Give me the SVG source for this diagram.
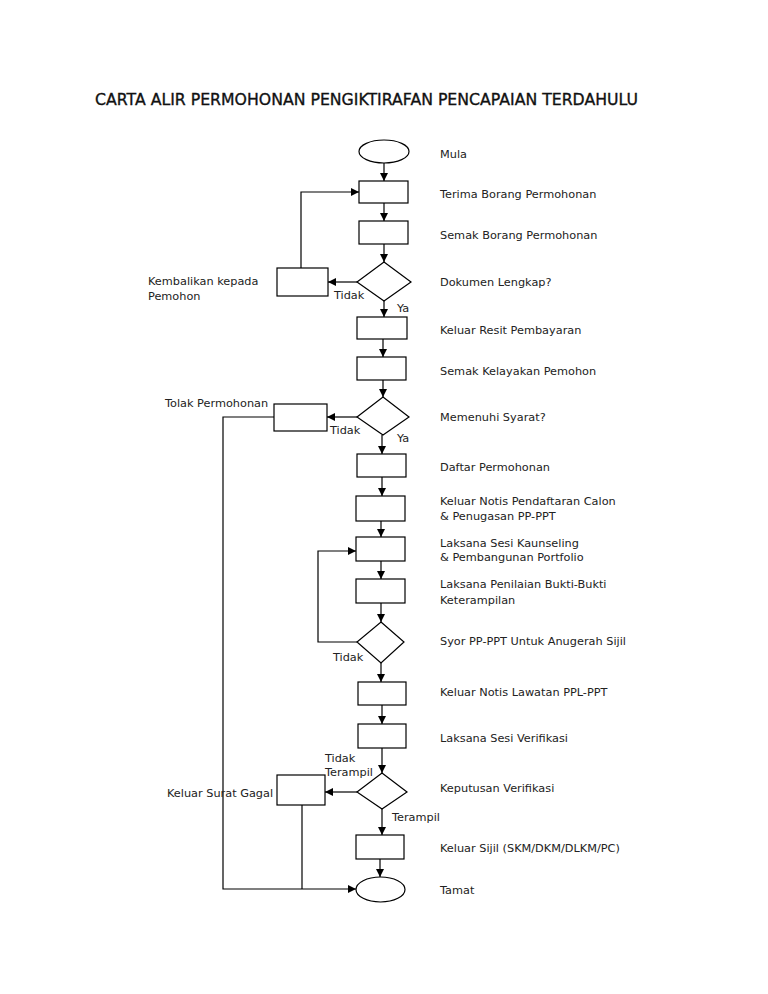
<svg xmlns="http://www.w3.org/2000/svg" width="768" height="994" viewBox="0 0 768 994">
<style>
.n{fill:#fff;stroke:#000;stroke-width:1.2}
.c{fill:none;stroke:#000;stroke-width:1.2}
text{font-family:"DejaVu Sans","Liberation Sans",sans-serif;font-size:11.3px;fill:#222}
.t{font-size:16px;fill:#111;stroke:#111;stroke-width:0.35}
</style>
<defs>
<marker id="ah" markerUnits="userSpaceOnUse" markerWidth="9" markerHeight="9" refX="8" refY="4.5" orient="auto">
<path d="M0,0.5 L8,4.5 L0,8.5 Z" fill="#000"/>
</marker>
</defs>
<rect width="768" height="994" fill="#fff"/>
<text class="t" x="95" y="105" textLength="543" lengthAdjust="spacingAndGlyphs">CARTA ALIR PERMOHONAN PENGIKTIRAFAN PENCAPAIAN TERDAHULU</text>

<g id="connectors">
<path class="c" marker-end="url(#ah)" d="M384,163 V181"/>
<path class="c" marker-end="url(#ah)" d="M384,203 V221"/>
<path class="c" marker-end="url(#ah)" d="M384,244 V262"/>
<path class="c" marker-end="url(#ah)" d="M357,282 H328"/>
<path class="c" marker-end="url(#ah)" d="M301,268 V192 H359"/>
<path class="c" marker-end="url(#ah)" d="M384,301 V317"/>
<path class="c" marker-end="url(#ah)" d="M383,339 V357"/>
<path class="c" marker-end="url(#ah)" d="M383,380 V397"/>
<path class="c" marker-end="url(#ah)" d="M357,417 H327"/>
<path class="c" marker-end="url(#ah)" d="M274,417 H223 V889 H356"/>
<path class="c" marker-end="url(#ah)" d="M382,435 V454"/>
<path class="c" marker-end="url(#ah)" d="M382,477 V496"/>
<path class="c" marker-end="url(#ah)" d="M381,521 V537"/>
<path class="c" marker-end="url(#ah)" d="M381,561 V579"/>
<path class="c" marker-end="url(#ah)" d="M381,603 V622"/>
<path class="c" marker-end="url(#ah)" d="M357,642 H318 V551 H356"/>
<path class="c" marker-end="url(#ah)" d="M381,663 V682"/>
<path class="c" marker-end="url(#ah)" d="M382,705 V724"/>
<path class="c" marker-end="url(#ah)" d="M382,748 V773"/>
<path class="c" marker-end="url(#ah)" d="M357,792 H325"/>
<path class="c" d="M302,805 V889"/>
<path class="c" marker-end="url(#ah)" d="M382,809 V835"/>
<path class="c" marker-end="url(#ah)" d="M380,859 V877"/>
</g>

<g id="mula"><ellipse class="n" cx="384" cy="151.5" rx="25" ry="11.5"/><text x="440" y="158">Mula</text></g>
<g id="terima"><rect class="n" x="359" y="181" width="49" height="22"/><text x="440" y="198">Terima Borang Permohonan</text></g>
<g id="semak"><rect class="n" x="359" y="221" width="49" height="23"/><text x="440" y="239">Semak Borang Permohonan</text></g>
<g id="dokumen"><polygon class="n" points="384,262 411,282 384,301 357,282"/><text x="440" y="286">Dokumen Lengkap?</text>
<text x="334" y="299">Tidak</text><text x="397" y="312">Ya</text></g>
<g id="kembalikan"><rect class="n" x="277" y="268" width="51" height="28"/><text x="148" y="285">Kembalikan kepada</text><text x="148" y="300">Pemohon</text></g>
<g id="resit"><rect class="n" x="357" y="317" width="50" height="22"/><text x="440" y="334">Keluar Resit Pembayaran</text></g>
<g id="kelayakan"><rect class="n" x="357" y="357" width="49" height="23"/><text x="440" y="375">Semak Kelayakan Pemohon</text></g>
<g id="syarat"><polygon class="n" points="383,397 409,417 383,435 357,417"/><text x="440" y="421">Memenuhi Syarat?</text>
<text x="330" y="434">Tidak</text><text x="397" y="442">Ya</text></g>
<g id="tolak"><rect class="n" x="274" y="404" width="53" height="27"/><text x="165" y="407">Tolak Permohonan</text></g>
<g id="daftar"><rect class="n" x="357" y="454" width="49" height="23"/><text x="440" y="471">Daftar Permohonan</text></g>
<g id="notis"><rect class="n" x="356" y="496" width="49" height="25"/><text x="440" y="505">Keluar Notis Pendaftaran Calon</text><text x="440" y="520">&amp; Penugasan PP-PPT</text></g>
<g id="kaunseling"><rect class="n" x="356" y="537" width="49" height="24"/><text x="440" y="547">Laksana Sesi Kaunseling</text><text x="440" y="561">&amp; Pembangunan Portfolio</text></g>
<g id="penilaian"><rect class="n" x="356" y="579" width="49" height="24"/><text x="440" y="588">Laksana Penilaian Bukti-Bukti</text><text x="440" y="604">Keterampilan</text></g>
<g id="syor"><polygon class="n" points="381,622 404,642 381,663 357,642"/><text x="440" y="645">Syor PP-PPT Untuk Anugerah Sijil</text>
<text x="333" y="661">Tidak</text></g>
<g id="lawatan"><rect class="n" x="358" y="682" width="48" height="23"/><text x="440" y="696">Keluar Notis Lawatan PPL-PPT</text></g>
<g id="verifikasi"><rect class="n" x="358" y="724" width="48" height="24"/><text x="440" y="742">Laksana Sesi Verifikasi</text></g>
<g id="keputusan"><polygon class="n" points="382,773 407,792 382,809 357,792"/><text x="440" y="792">Keputusan Verifikasi</text>
<text x="325" y="762">Tidak</text><text x="325" y="776">Terampil</text><text x="392" y="821">Terampil</text></g>
<g id="gagal"><rect class="n" x="277" y="775" width="48" height="30"/><text x="167" y="797">Keluar Surat Gagal</text></g>
<g id="sijil"><rect class="n" x="356" y="835" width="48" height="24"/><text x="440" y="852">Keluar Sijil (SKM/DKM/DLKM/PC)</text></g>
<g id="tamat"><ellipse class="n" cx="380.5" cy="889.5" rx="24.5" ry="12.5"/><text x="440" y="894">Tamat</text></g>
</svg>
